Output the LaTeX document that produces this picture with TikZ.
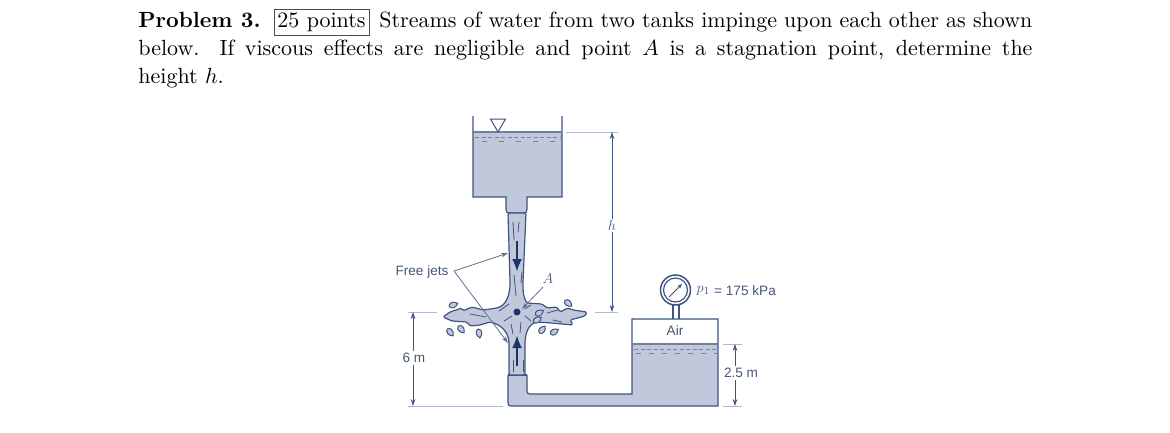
\documentclass[tikz,border=0pt]{standalone}
\usepackage{fontspec}
\newfontfamily\labelfont{Liberation Sans}
\usetikzlibrary{arrows.meta}
\definecolor{waterfill}{RGB}{194,200,220}
\definecolor{wallblue}{RGB}{62,84,130}
\definecolor{darkblue}{RGB}{28,52,104}
\definecolor{labelgrey}{RGB}{70,85,120}
\definecolor{dimline}{RGB}{176,184,206}
\tikzset{
	wall/.style = {line width=1.2pt, color=wallblue},
	water/.style = {fill=waterfill, draw=wallblue, line width=1.2pt, line join=round},
	flowline/.style = {line width=.8pt, color=wallblue, line cap=round},
	flowarrow/.style = {line width=2.6pt, color=darkblue, -{Latex[length=13pt,width=10pt]}},
	dimarrow/.style = {line width=.6pt, color=wallblue, {Stealth[length=7pt,width=4.5pt]}-{Stealth[length=7pt,width=4.5pt]}},
	extline/.style = {line width=1pt, color=dimline},
	leader/.style = {line width=.8pt, color=wallblue!85, -{Stealth[length=7pt,width=4.5pt]}},
	surfdash/.style = {line width=1pt, color=wallblue!60!waterfill, dash pattern=on 4pt off 2.5pt},
	waterdrop/.pic = {\draw [fill=waterfill, draw=wallblue, line width=1pt] (-4,0) .. controls (-3,-4) and (2,-3.5) .. (5,0) .. controls (2,3.5) and (-3,4) .. (-4,0) -- cycle;},
	tag/.style = {text=labelgrey, inner sep=1pt, font=\labelfont\fontsize{13.6}{15}\selectfont},
	mathtag/.style = {text=labelgrey, inner sep=1.5pt, font=\fontsize{15}{16}\selectfont},
	prose/.style = {anchor=base west, inner sep=0pt, scale=2.2, transform shape, font=\fontsize{10}{12}\selectfont}
}
\begin{document}
\begin{tikzpicture}[x=1pt,y=-1pt]
  \useasboundingbox (0,0) rectangle (1170,432);

  % problem text
  \node [prose] (title) at (138,27) {\textbf{Problem 3.}};
  \node [prose, anchor=base, draw=black!70, line width=.25pt, inner sep=1.6pt] (points) at (321.5,27) {25 points};
  \node [prose] (line1) at (379,27) {\makebox[296.8pt][s]{Streams of water from two tanks impinge upon each other as shown}};
  \node [prose] (line2) at (138,55) {\makebox[406.4pt][s]{below. If viscous effects are negligible and point $A$ is a stagnation point, determine the}};
  \node [prose] (line3) at (138,83) {height $h$.};

  % upper tank
  \fill [waterfill] (473,132) -- (562,132) -- (562,197) -- (527,197) -- (527,209) -- (524,213) -- (509,213) -- (506,209) -- (506,197) -- (473,197) -- cycle;
  \draw [wall] (473,116) -- (473,197) -- (506,197) -- (506,209) .. controls (506,212) and (507,213) .. (509,213) -- (524,213) .. controls (526,213) and (527,212) .. (527,209) -- (527,197) -- (562,197) -- (562,116);
  \draw [wall, line width=1.4pt, color=wallblue!75] (473,132) -- (562,132);
  \draw [surfdash] (475,137) -- (561,137);
  \draw [surfdash, dash pattern=on 5pt off 12pt] (482,141) -- (561,141);
  \draw [wall, fill=white, line width=1pt] (490.5,119) -- (505.5,119) -- (498,132) -- cycle;

  % lower pipe and tank
  \fill [waterfill] (632,344) -- (718,344) -- (718,406) -- (508,406) -- (508,375) -- (527,375) -- (527,394) -- (632,394) -- cycle;
  \draw [wall] (508,375) -- (508,403) .. controls (508,405) and (509,406) .. (511,406) -- (718,406) -- (718,319) -- (632,319) -- (632,394) -- (530,394) .. controls (528,394) and (527,393) .. (527,391) -- (527,375);
  \draw [wall] (508,375) -- (527,375);
  \draw [wall, line width=1.4pt, color=wallblue!75] (632,344) -- (718,344);
  \draw [surfdash] (634,349) -- (717,349);
  \draw [surfdash, dash pattern=on 5pt off 8pt] (636,353) -- (717,353);

  % impinging jets and spray
  \draw [water, rounded corners=1.5pt] (508,213) -- (510,282) .. controls (510,295) and (506,305) .. (497,308)
    -- (483,310) -- (472,307) -- (463,311) -- (462,308) -- (450,312) -- (443,317)
    -- (452,321) -- (467,322) -- (470,326) -- (480,325) -- (490,322)
    .. controls (502,325) and (509,333) .. (509,345) -- (509,375) -- (525,375) -- (525,345)
    .. controls (525,333) and (529,324) .. (537,322) -- (552,323) -- (573,325) -- (570,320) -- (585,316) -- (587,312)
    -- (573,310) -- (568,308) -- (560,312) -- (557,307) -- (547,308) -- (542,304) -- (527,303)
    .. controls (523,297) and (523,290) .. (523,282) -- (526,213) -- cycle;
  \foreach \xa/\ya/\xb/\yb in {513/222/514/240, 519/222/518/232, 514/275/516/296, 522/272/521/283,
      499/311/509/304, 504/321/512/316, 525/309/531/305, 525/316/531/321, 470/314/486/317,
      547/313/558/310, 511/324/513/334, 521/322/520/333, 553/320/562/322, 513/360/513/372, 523/360/523/372}
    \draw [flowline] (\xa,\ya) -- (\xb,\yb);

  % drops, outside and on the spray
  \foreach \x/\y/\r in {453/305/20, 450/332/-50, 461/329/-50, 479/333/-80, 568/303/-40,
      539/313/30, 537/320/30, 542/330/50, 554/332/30}
    \pic [rotate=\r] at (\x,\y) {waterdrop};

  \coordinate (downfrom) at (517,241);
  \coordinate (downto) at (517,272);
  \coordinate (upfrom) at (517,366);
  \coordinate (upto) at (517,335);
  \draw [flowarrow] (downfrom) -- (downto);
  \draw [flowarrow] (upfrom) -- (upto);

  % stagnation point
  \node [circle, fill=darkblue, inner sep=0pt, minimum size=7pt] (stag) at (517,312) {};
  \node [mathtag] (labelA) at (548,279) {$A$};
  \coordinate (stagtip) at (522,309);
  \coordinate (stagknee) at (543,287);
  \draw [leader] (stagknee) -- (stagtip);

  % free jets
  \node [tag] (freejets) at (422,272) {Free jets};
  \coordinate (jetfork) at (454,271);
  \coordinate (jetupper) at (508,253);
  \coordinate (jetlower) at (508,343);
  \draw [leader] (jetfork) -- (jetupper);
  \draw [leader] (jetfork) -- (jetlower);

  % gauge
  \draw [wall] (673,303) -- (673,319) (679,303) -- (679,319);
  \node [circle, draw=wallblue, fill=white, line width=1.5pt, minimum size=30pt, inner sep=0pt] (gaugeout) at (675.5,290) {};
  \node [circle, draw=wallblue, line width=1.2pt, minimum size=24pt, inner sep=0pt] (gaugein) at (675.5,290) {};
  \coordinate (needlefrom) at (669,297);
  \coordinate (needleto) at (682,284);
  \draw [line width=.9pt, color=wallblue, -{Stealth[length=5pt,width=4pt]}] (needlefrom) -- (needleto);
  \node [mathtag, anchor=west] (pone) at (695,291) {$p_1$};
  \node [tag, anchor=west] (press) at (713,291) {= 175 kPa};
  \node [tag] (air) at (675,331) {Air};

  % dimensions
  \coordinate (htop) at (612,132);
  \coordinate (hbot) at (612,312);
  \draw [extline] (566,132) -- (618,132);
  \draw [extline] (595,312) -- (618,312);
  \draw [dimarrow] (htop) -- (hbot);
  \node [mathtag, fill=white] (hlabel) at (612,225) {$h$};

  \coordinate (sixtop) at (413,312);
  \coordinate (sixbot) at (413,406);
  \draw [extline] (408,312) -- (437,312);
  \draw [extline] (408,406) -- (503,406);
  \draw [dimarrow] (sixtop) -- (sixbot);
  \node [tag, fill=white, inner sep=2pt] (sixlabel) at (414,358) {6 m};

  \coordinate (twotop) at (735,344);
  \coordinate (twobot) at (735,406);
  \draw [extline] (723,344) -- (742,344);
  \draw [extline] (723,406) -- (742,406);
  \draw [dimarrow] (twotop) -- (twobot);
  \node [tag, fill=white, inner sep=2pt] (twolabel) at (741,373) {2.5 m};
\end{tikzpicture}
\end{document}
